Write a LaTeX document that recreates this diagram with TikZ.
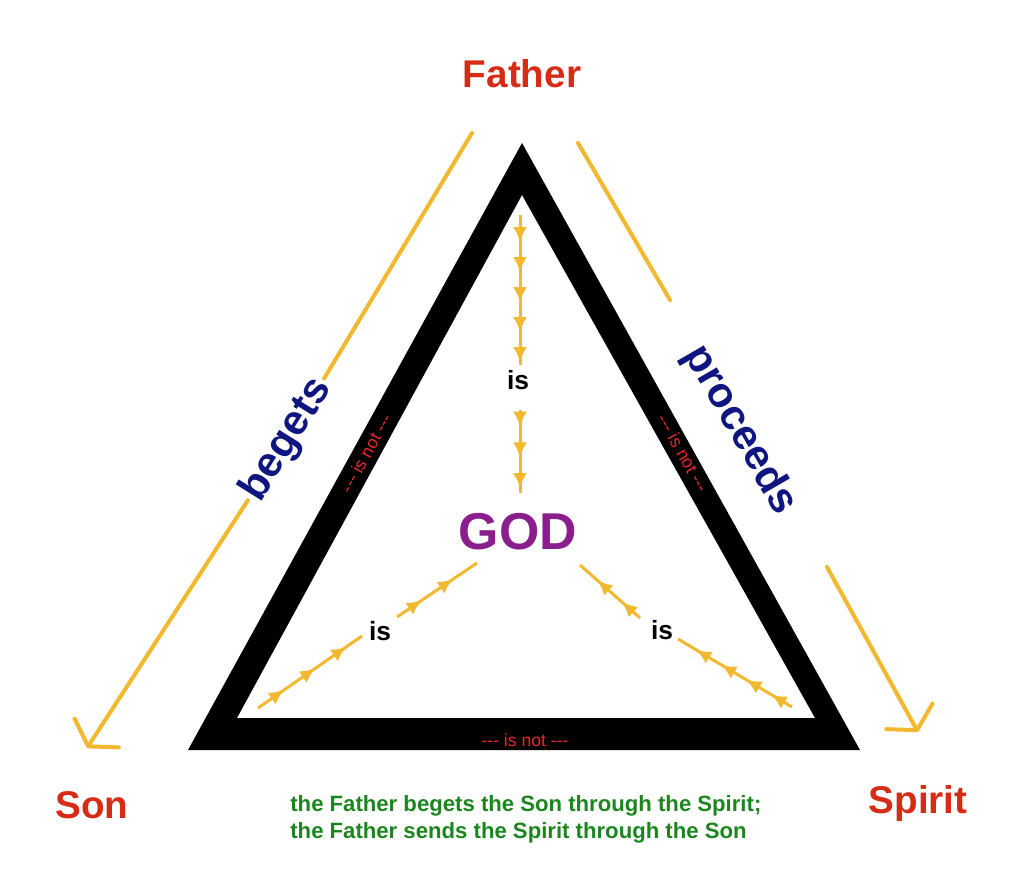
\documentclass[tikz,border=0pt]{standalone}
\usepackage{fontspec}
\setmainfont{Liberation Sans}
\usetikzlibrary{arrows.meta,decorations.markings}
\definecolor{gold}{RGB}{242,184,48}
\definecolor{fred}{RGB}{214,44,22}
\definecolor{navy}{RGB}{16,22,128}
\definecolor{godpurple}{RGB}{138,30,140}
\definecolor{isred}{RGB}{235,40,40}
\definecolor{sgreen}{RGB}{28,134,30}
\newcommand{\isnottext}{-{}-{}- is not -{}-{}-}
\tikzset{
	isflow/.style 2 args={
			draw=gold, color=gold, line width=1.7pt,
			postaction={decorate},
			decoration={markings, mark=between positions #1 and 1 step #2 with {\arrow{Latex[length=8.5pt,width=8pt]}}}
		},
	outerline/.style={draw=gold, line width=2.3pt, line cap=round},
	barb/.style={-{Straight Barb[length=9pt,width=30pt,round]}},
	person/.style={text=fred, font=\fontsize{22}{26}\selectfont\bfseries},
	verbtext/.style={text=navy, inner sep=2pt, font=\fontsize{24}{28}\selectfont\bfseries},
	isnot/.style={text=isred, inner sep=0pt, font=\fontsize{10}{12}\selectfont},
	islabel/.style={font=\fontsize{15}{18}\selectfont\bfseries}
}
\begin{document}
\begin{tikzpicture}[x=0.02cm, y=-0.02cm]
		\useasboundingbox (0,0) rectangle (1024,881);
		\fill[black, even odd rule] (522,143) -- (860,750) -- (188,750) -- cycle (522,195) -- (815,718) -- (237,718) -- cycle;
		\node[isnot, rotate=61] (notleft) at (366,453) {\isnottext};
		\node[isnot, rotate=-61] (notright) at (683,453) {\isnottext};
		\node[isnot] (notbottom) at (525,740) {\isnottext};

		\node[person] (father) at (522,74) {Father};
		\node[person] (son) at (92,805) {Son};
		\node[person] (spirit) at (918,804) {Spirit};
		\node[text=godpurple, font=\fontsize{29.5}{34}\selectfont\bfseries] (god) at (518,532) {GOD};

		\coordinate (fs1) at (472,133);
		\coordinate (fs4) at (87,748);
		\node[verbtext, rotate=58] (begets) at (287,440) {begets};
		\draw[outerline] (fs1) -- (begets);
		\draw[outerline, barb] (begets) -- (fs4);

		\coordinate (fp1) at (578,143);
		\coordinate (fp2) at (670,300);
		\coordinate (fp3) at (827,567);
		\coordinate (fp4) at (918,732);
		\node[verbtext, rotate=-60] (proceeds) at (740,430) {proceeds};
		\draw[outerline] (fp1) -- (fp2);
		\draw[outerline, barb] (fp3) -- (fp4);

		\node[islabel] (isfather) at (518,380) {is};
		\node[islabel] (isson) at (380,631) {is};
		\node[islabel] (isspirit) at (662,630) {is};
		\coordinate (f1) at (520,215);
		\coordinate (f2) at (520,365);
		\coordinate (f3) at (520,410);
		\coordinate (f4) at (520,493);
		\draw[isflow={0.18}{0.2}] (f1) -- (f2);
		\draw[isflow={0.2}{0.37}] (f3) -- (f4);
		\coordinate (s1) at (258,708);
		\coordinate (s2) at (362,636);
		\coordinate (s3) at (397,617);
		\coordinate (s4) at (477,563);
		\draw[isflow={0.25}{0.3}] (s1) -- (s2);
		\draw[isflow={0.31}{0.39}] (s3) -- (s4);
		\coordinate (p1) at (792,707);
		\coordinate (p2) at (678,639);
		\coordinate (p3) at (640,618);
		\coordinate (p4) at (580,565);
		\draw[isflow={0.18}{0.22}] (p1) -- (p2);
		\draw[isflow={0.3}{0.41}] (p3) -- (p4);

		\node[anchor=west, align=left, inner sep=0pt, text=sgreen, font=\fontsize{12.6}{15.3}\selectfont\bfseries] (note) at (290,819) {the Father begets the Son through the Spirit;\\the Father sends the Spirit through the Son};
	\end{tikzpicture}
\end{document}
